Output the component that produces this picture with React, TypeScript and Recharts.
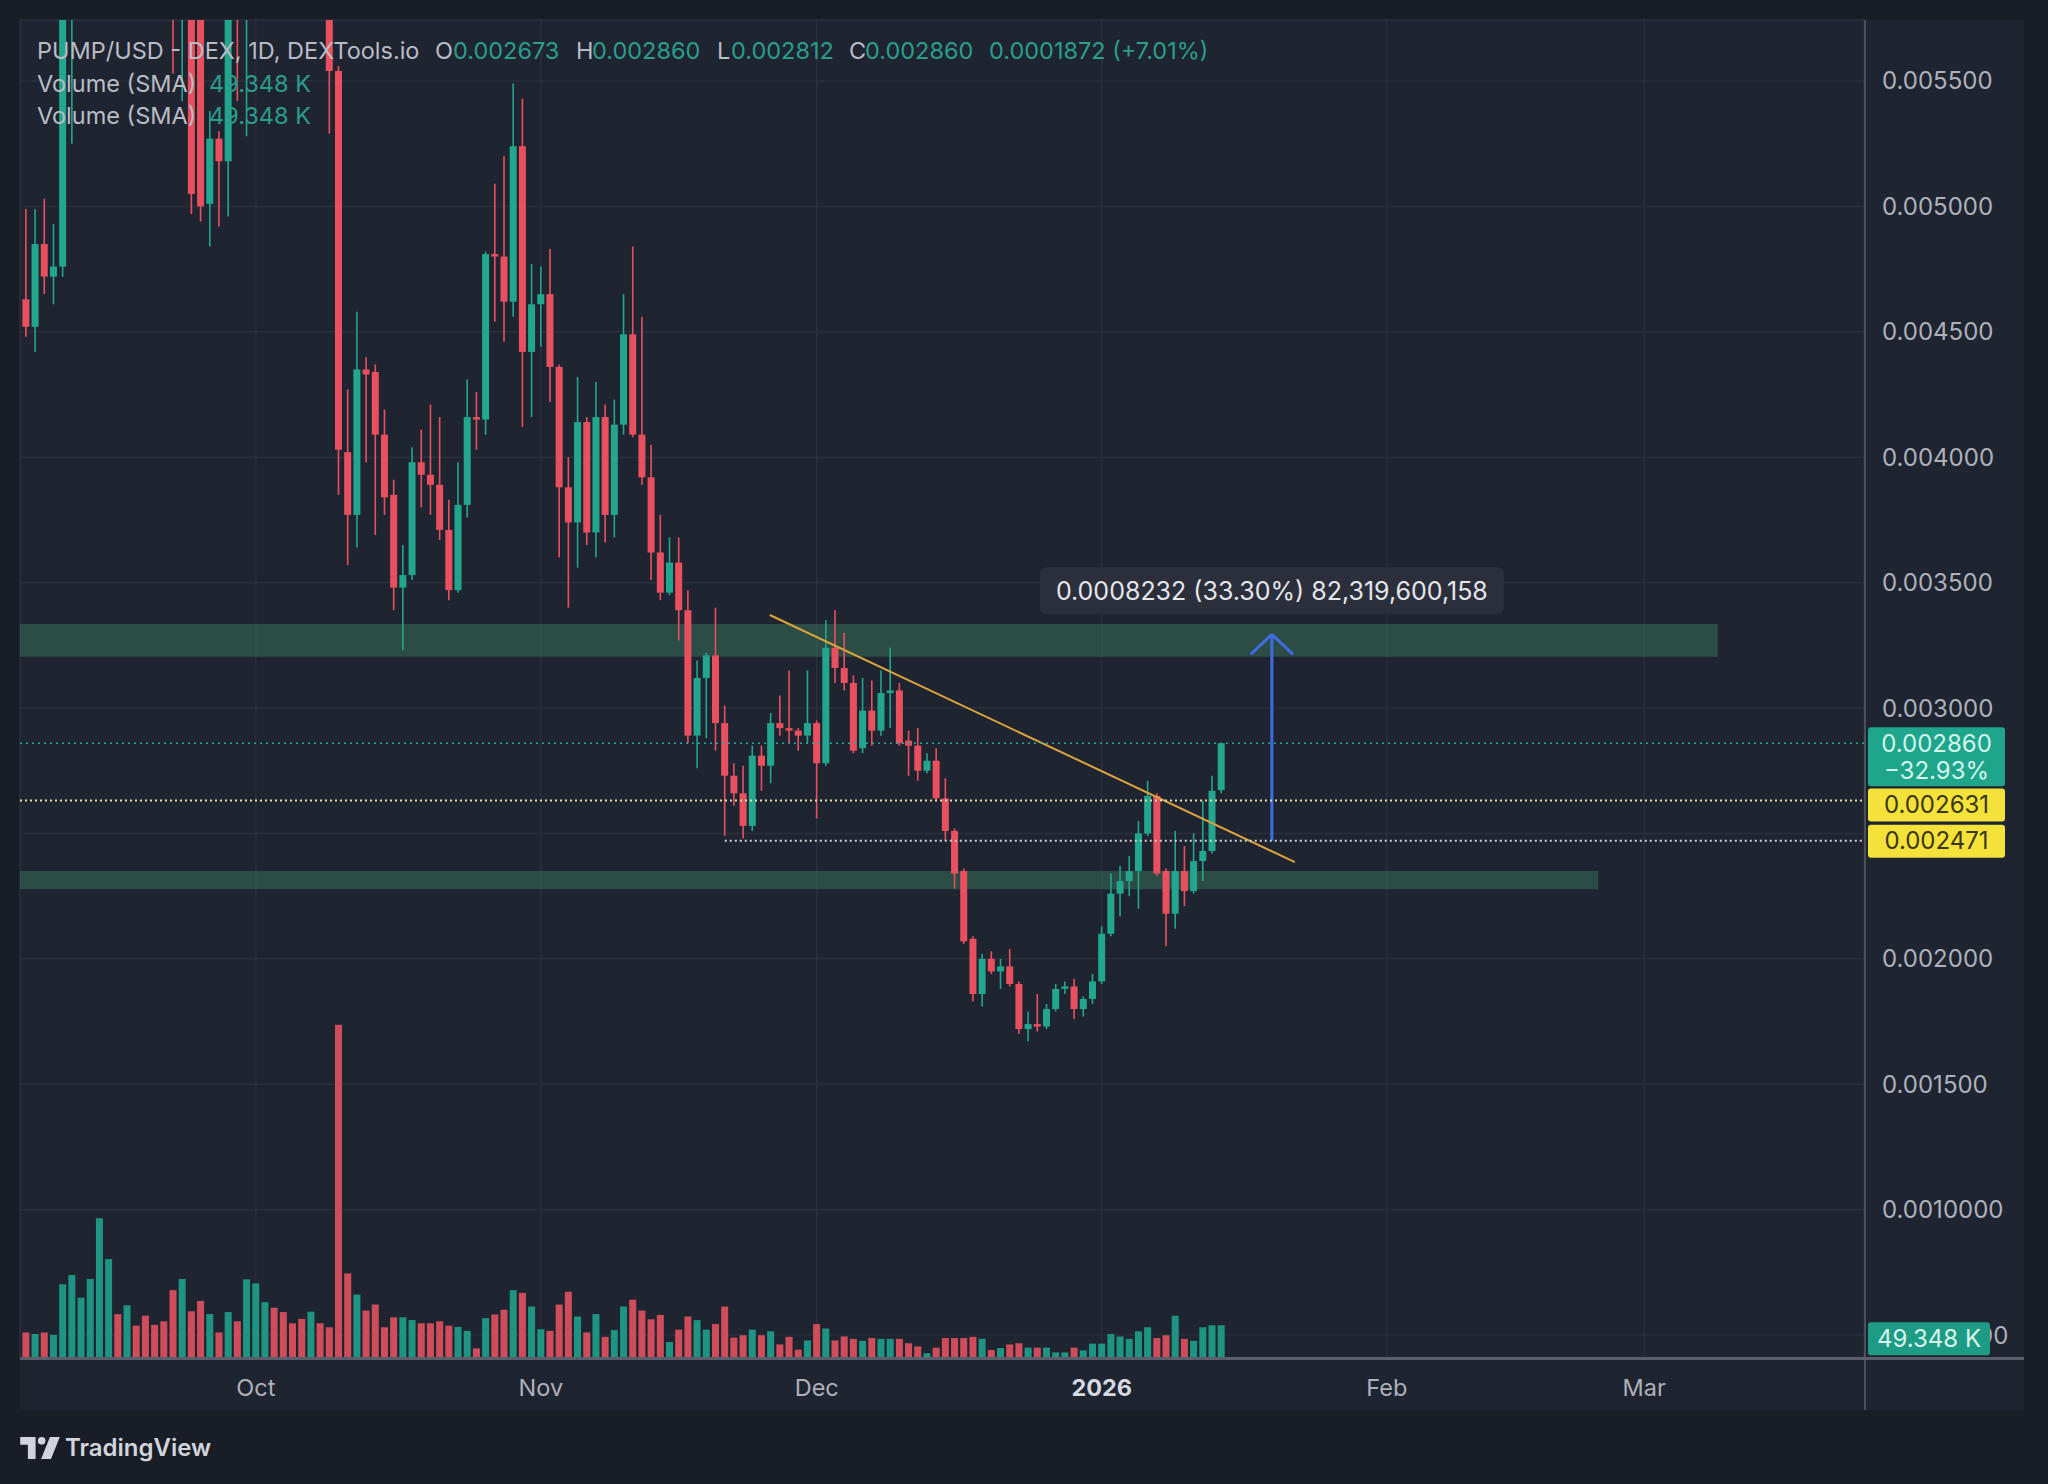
import {
  Bar,
  CartesianGrid,
  Cell,
  ComposedChart,
  ReferenceArea,
  ReferenceDot,
  ReferenceLine,
  XAxis,
  YAxis,
} from "recharts";

// day index counted from Sep 1 2025 (= 0); first candle is Sep 6
const firstDay = 5;

const opens = [
  0.00463, 0.00452, 0.00485, 0.00472, 0.00476, 0.0059, 0.0063, 0.0066, 0.007, 0.0076,
  0.0079, 0.0072, 0.0075, 0.0071, 0.0068, 0.0064, 0.0061, 0.0058, 0.0062, 0.0058,
  0.00501, 0.00527, 0.00518, 0.0061, 0.0058, 0.0063, 0.0067, 0.007, 0.0068, 0.0066,
  0.0064, 0.0063, 0.0065, 0.0061, 0.00554, 0.00402, 0.00377, 0.00435, 0.00434, 0.00409,
  0.00385, 0.00348, 0.00353, 0.00398, 0.00393, 0.00389, 0.00371, 0.00347, 0.00381, 0.00416,
  0.00415, 0.00481, 0.0048, 0.00462, 0.00524, 0.00442, 0.00461, 0.00465, 0.00436, 0.00388,
  0.00374, 0.00414, 0.0037, 0.00416, 0.00377, 0.00413, 0.00449, 0.00409, 0.00392, 0.00362,
  0.00346, 0.00358, 0.00339, 0.00289, 0.00312, 0.00321, 0.00294, 0.00273, 0.00266, 0.00253,
  0.00281, 0.00277, 0.00294, 0.00292, 0.00291, 0.00289, 0.00294, 0.00278, 0.00324, 0.00316,
  0.0031, 0.00284, 0.00299, 0.00291, 0.00306, 0.00307, 0.00287, 0.00285, 0.00275, 0.00279,
  0.00264, 0.00251, 0.00235, 0.00208, 0.00186, 0.002, 0.00195, 0.00197, 0.0019, 0.00172,
  0.00174, 0.00173, 0.0018, 0.00188, 0.00189, 0.0018, 0.00184, 0.00191, 0.0021, 0.00226,
  0.00231, 0.00235, 0.0025, 0.00265, 0.00235, 0.00218, 0.00235, 0.00227, 0.00239, 0.00243, 0.002673,
];
const highs = [
  0.00499, 0.00499, 0.00503, 0.00493, 0.0061, 0.0065, 0.0068, 0.0072, 0.0078, 0.0082,
  0.008, 0.0076, 0.0077, 0.0073, 0.007, 0.0066, 0.0063, 0.0064, 0.0063, 0.0059,
  0.00538, 0.0053, 0.0061, 0.0063, 0.0065, 0.0069, 0.0072, 0.0072, 0.007, 0.0068,
  0.0066, 0.0066, 0.0066, 0.0062, 0.00556, 0.00427, 0.00458, 0.0044, 0.00437, 0.00419,
  0.00391, 0.00365, 0.00404, 0.00411, 0.00421, 0.00416, 0.00383, 0.00398, 0.00431, 0.00426,
  0.00482, 0.00509, 0.0052, 0.00549, 0.00543, 0.00477, 0.00476, 0.00483, 0.00437, 0.004,
  0.00432, 0.00416, 0.0043, 0.00421, 0.00423, 0.00465, 0.00484, 0.00456, 0.00405, 0.00377,
  0.00368, 0.00368, 0.00347, 0.00319, 0.00322, 0.0034, 0.00301, 0.00278, 0.00277, 0.00285,
  0.00285, 0.00298, 0.00305, 0.00315, 0.00292, 0.00315, 0.00295, 0.00335, 0.00339, 0.0033,
  0.00313, 0.00312, 0.00311, 0.00315, 0.00324, 0.0031, 0.00291, 0.00292, 0.00282, 0.00284,
  0.00272, 0.00252, 0.00236, 0.00209, 0.00202, 0.00203, 0.002, 0.00204, 0.00191, 0.00179,
  0.00186, 0.00182, 0.0019, 0.00191, 0.00192, 0.00185, 0.00194, 0.00213, 0.00234, 0.00237,
  0.00241, 0.00255, 0.00271, 0.00266, 0.00236, 0.00251, 0.00245, 0.0025, 0.00263, 0.00273, 0.00286,
];
const lows = [
  0.00448, 0.00442, 0.00465, 0.00461, 0.00472, 0.00525, 0.0061, 0.0064, 0.0068, 0.0074,
  0.0071, 0.007, 0.007, 0.0067, 0.0063, 0.0059, 0.00553, 0.00542, 0.00497, 0.00494,
  0.00484, 0.00492, 0.00496, 0.00542, 0.00528, 0.0061, 0.0065, 0.0067, 0.0065, 0.0063,
  0.0062, 0.0062, 0.0059, 0.00529, 0.00385, 0.00357, 0.00364, 0.00398, 0.00369, 0.00377,
  0.00339, 0.00323, 0.00351, 0.0038, 0.00377, 0.00367, 0.00343, 0.00346, 0.00376, 0.00403,
  0.00409, 0.00454, 0.00446, 0.00456, 0.00412, 0.00416, 0.00444, 0.00422, 0.0036, 0.0034,
  0.00356, 0.00365, 0.0036, 0.00366, 0.00368, 0.00409, 0.00408, 0.00389, 0.00351, 0.00343,
  0.00345, 0.00327, 0.00286, 0.00276, 0.00288, 0.00283, 0.00249, 0.00261, 0.00248, 0.00251,
  0.00267, 0.0027, 0.00289, 0.00286, 0.00283, 0.00286, 0.00256, 0.00277, 0.0031, 0.00307,
  0.00282, 0.00282, 0.00285, 0.00289, 0.00292, 0.00285, 0.00273, 0.00271, 0.00274, 0.00263,
  0.00247, 0.00228, 0.00206, 0.00183, 0.00181, 0.00194, 0.00188, 0.00189, 0.0017, 0.00167,
  0.00171, 0.00172, 0.00179, 0.00186, 0.00176, 0.00177, 0.00182, 0.0019, 0.00209, 0.00217,
  0.00225, 0.0022, 0.00249, 0.00233, 0.00205, 0.00212, 0.00221, 0.00226, 0.00231, 0.00242, 0.00266,
];
const closes = [
  0.00452, 0.00485, 0.00472, 0.00476, 0.0059, 0.0063, 0.0066, 0.007, 0.0076, 0.0079,
  0.0072, 0.0075, 0.0071, 0.0068, 0.0064, 0.0061, 0.0058, 0.0062, 0.00505, 0.005,
  0.00527, 0.00518, 0.0059, 0.0058, 0.0063, 0.0067, 0.007, 0.0068, 0.0066, 0.0064,
  0.0063, 0.0065, 0.0061, 0.00554, 0.00403, 0.00377, 0.00435, 0.00433, 0.00409, 0.00384,
  0.00348, 0.00353, 0.00398, 0.00393, 0.00389, 0.00371, 0.00347, 0.00381, 0.00416, 0.00415,
  0.00481, 0.0048, 0.00462, 0.00524, 0.00442, 0.00461, 0.00465, 0.00436, 0.00388, 0.00374,
  0.00414, 0.0037, 0.00416, 0.00377, 0.00413, 0.00449, 0.00409, 0.00392, 0.00362, 0.00346,
  0.00358, 0.00339, 0.00289, 0.00312, 0.00321, 0.00294, 0.00273, 0.00266, 0.00253, 0.00281,
  0.00277, 0.00294, 0.00292, 0.00291, 0.00289, 0.00294, 0.00278, 0.00324, 0.00316, 0.0031,
  0.00283, 0.00299, 0.00291, 0.00306, 0.00307, 0.00286, 0.00285, 0.00275, 0.00279, 0.00264,
  0.00251, 0.00234, 0.00207, 0.00186, 0.002, 0.00195, 0.00197, 0.0019, 0.00172, 0.00174,
  0.00173, 0.0018, 0.00188, 0.00189, 0.0018, 0.00184, 0.00191, 0.0021, 0.00226, 0.00231,
  0.00235, 0.0025, 0.00265, 0.00234, 0.00218, 0.00235, 0.00227, 0.00239, 0.00243, 0.00267, 0.00286,
];
// volume in thousands
const volumes = [
  64, 60, 64, 58, 185, 208, 151, 198, 350, 248,
  110, 132, 81, 106, 83, 92, 170, 198, 117, 143,
  110, 64, 115, 92, 197, 187, 140, 126, 115, 87,
  98, 116, 87, 77, 835, 212, 159, 119, 134, 77,
  102, 102, 95, 87, 87, 92, 81, 78, 68, 24,
  100, 109, 121, 170, 163, 129, 72, 68, 134, 166,
  104, 64, 110, 53, 70, 129, 146, 119, 97, 108,
  40, 71, 104, 95, 71, 85, 129, 51, 57, 71,
  57, 67, 34, 53, 21, 44, 85, 74, 44, 54,
  48, 43, 50, 48, 48, 48, 37, 29, 12, 26,
  50, 50, 50, 53, 48, 20, 25, 34, 37, 26,
  26, 26, 14, 14, 26, 19, 36, 36, 60, 54,
  48, 67, 77, 50, 57, 106, 48, 43, 77, 82, 82,
];

const monthTicks = [30, 61, 91, 122, 153, 181];
const monthLabels = ["Oct", "Nov", "Dec", "2026", "Feb", "Mar"];
const priceTicks = [0.0005, 0.001, 0.0015, 0.002, 0.0025, 0.003, 0.0035, 0.004, 0.0045, 0.005, 0.0055];
// the 0.002500 label sits fully under the two yellow price badges
const coveredTicks = [0.0025];

const lastPrice = 0.00286;
const lastChange = "−32.93%";
const levelHigh = 0.002631;
const levelLow = 0.002471;
const levelLowFrom = 81;
const volSma = 49.348;

const upperZone = [189, 0.003204, 0.003335]; // end day, bottom, top
const lowerZone = [176, 0.002278, 0.00235];
const trendLine = [
  { x: 85.9, y: 0.003371 },
  { x: 143, y: 0.002386 },
];
const arrowDay = 140.5;
const arrowTop = 0.003294;
const arrowWing = [138.2, 142.8, 0.003214];
const measureText = "0.0008232 (33.30%) 82,319,600,158";

const X_DOMAIN = [4.35, 204.9];
const PRICE_DOMAIN = [0.0004086, 0.0057432];
const VOL_DOMAIN = [0, 3353];

const rows = opens.map((o, i) => ({
  d: firstDay + i,
  open: o,
  high: highs[i],
  low: lows[i],
  close: closes[i],
  vol: volumes[i],
}));

const FONT = "Inter, 'Noto Sans', sans-serif";
const UP = "#22a68e";
const DOWN = "#e9505f";
const UP_VOL = "#1f9483";
const DOWN_VOL = "#cf4d5a";
const AXIS_TEXT = "#aeb1ba";

const Candle = (props: any) => {
  const { x, y, width, height, payload } = props;
  if (!payload) return null;
  const { open, close, high, low } = payload;
  const top = Math.min(y, y + height);
  const h = Math.abs(height);
  const k = high === low ? 0 : h / (high - low);
  const color = close >= open ? UP : DOWN;
  const bodyTop = top + (high - Math.max(open, close)) * k;
  const bodyH = Math.max(2, Math.abs(open - close) * k);
  const cx = x + width / 2;
  return (
    <g>
      <line x1={cx} x2={cx} y1={top} y2={top + h} stroke={color} strokeWidth={1.6} />
      <rect x={x} y={bodyTop} width={width} height={bodyH} fill={color} />
    </g>
  );
};

const MonthTick = (props: any) => {
  const { x, y, payload } = props;
  const label = monthLabels[monthTicks.indexOf(payload.value)];
  const bold = label === "2026";
  return (
    <text
      x={x}
      y={y + 29}
      textAnchor="middle"
      dominantBaseline="central"
      fontFamily={FONT}
      fontSize={23.5}
      fontWeight={bold ? 700 : 400}
      fill={bold ? "#d6d9e0" : AXIS_TEXT}
    >
      {label}
    </text>
  );
};

const fmtPrice = (v: number) => (v <= 0.001 + 1e-9 ? v.toFixed(7) : v.toFixed(6));

const PriceTick = (props: any) => {
  const { x, y, payload } = props;
  if (coveredTicks.includes(payload.value)) return <g />;
  return (
    <text x={x + 18} y={y} dominantBaseline="central" fontFamily={FONT} fontSize={24} fill={AXIS_TEXT}>
      {fmtPrice(payload.value)}
    </text>
  );
};

const AxisBadge = (props: any) => {
  const { viewBox, lines, bg, color, dy = 0, w = 137 } = props;
  if (!viewBox) return null;
  const x = viewBox.x + viewBox.width + 4;
  const y = viewBox.y + dy;
  const h = lines.length > 1 ? 59 : 33;
  return (
    <g>
      <rect x={x} y={y - 16} width={w} height={h} rx={3} fill={bg} />
      {lines.map((t: string, i: number) => (
        <text
          key={i}
          x={x + w / 2}
          y={y + i * 27}
          textAnchor="middle"
          dominantBaseline="central"
          fontFamily={FONT}
          fontSize={24}
          fill={color}
        >
          {t}
        </text>
      ))}
    </g>
  );
};

const MeasureLabel = (props: any) => {
  const { viewBox } = props;
  if (!viewBox) return null;
  const cx = viewBox.x + viewBox.width / 2;
  const cy = viewBox.y + viewBox.height / 2;
  return (
    <g>
      <rect x={cx - 232} y={cy - 67} width={464} height={47} rx={7} fill="#2b2f3b" />
      <text
        x={cx}
        y={cy - 43}
        textAnchor="middle"
        dominantBaseline="central"
        fontFamily={FONT}
        fontSize={25}
        fill="#e4e6eb"
      >
        {measureText}
      </text>
    </g>
  );
};

const Txt = ({ x, y, color, size = 23.5, weight = 400, children }: any) => (
  <div
    style={{
      position: "absolute",
      left: x,
      top: y,
      transform: "translateY(-50%)",
      color,
      fontSize: size,
      fontWeight: weight,
      fontFamily: FONT,
      whiteSpace: "nowrap",
      lineHeight: 1,
    }}
  >
    {children}
  </div>
);

const GRAY = "#b9bcc5";
const TEAL = "#2a9e8c";

export default function App() {
  return (
    <div
      style={{
        position: "absolute",
        left: 0,
        top: 0,
        width: 2048,
        height: 1484,
        background: "#191d26",
        overflow: "hidden",
      }}
    >
      <div style={{ position: "absolute", left: 20, top: 20, width: 2004, height: 1390, background: "#1f2431" }} />
      <div style={{ position: "absolute", left: 0, top: 0 }}>
        <ComposedChart width={2048} height={1484} data={rows} margin={{ top: 20, right: 24, bottom: 74, left: 20 }}>
          <CartesianGrid xAxisId="x" yAxisId="price" stroke="#2a2f3d" strokeWidth={1.5} />
          <XAxis
            xAxisId="x"
            type="number"
            dataKey="d"
            domain={X_DOMAIN}
            allowDataOverflow
            ticks={monthTicks}
            interval={0}
            tick={<MonthTick />}
            tickSize={0}
            tickMargin={0}
            axisLine={false}
            tickLine={false}
            height={52}
          />
          <XAxis xAxisId="xv" type="number" dataKey="d" domain={X_DOMAIN} allowDataOverflow hide />
          <YAxis
            yAxisId="price"
            orientation="right"
            type="number"
            domain={PRICE_DOMAIN}
            allowDataOverflow
            ticks={priceTicks}
            interval={0}
            tick={<PriceTick />}
            tickSize={0}
            tickMargin={0}
            axisLine={false}
            tickLine={false}
            width={160}
          />
          <YAxis yAxisId="vol" type="number" domain={VOL_DOMAIN} allowDataOverflow hide />

          <ReferenceArea
            xAxisId="x"
            yAxisId="price"
            x1={X_DOMAIN[0]}
            x2={upperZone[0]}
            y1={upperZone[1]}
            y2={upperZone[2]}
            fill="#4a9e72"
            fillOpacity={0.33}
            stroke="none"
          />
          <ReferenceArea
            xAxisId="x"
            yAxisId="price"
            x1={X_DOMAIN[0]}
            x2={lowerZone[0]}
            y1={lowerZone[1]}
            y2={lowerZone[2]}
            fill="#4a9e72"
            fillOpacity={0.33}
            stroke="none"
          />

          <Bar xAxisId="xv" yAxisId="vol" dataKey="vol" barSize={7} isAnimationActive={false}>
            {rows.map((r, i) => (
              <Cell key={i} fill={r.close >= r.open ? UP_VOL : DOWN_VOL} />
            ))}
          </Bar>
          <Bar
            xAxisId="x"
            yAxisId="price"
            dataKey={(r: any) => [r.low, r.high]}
            barSize={7}
            shape={<Candle />}
            isAnimationActive={false}
          />

          <ReferenceLine xAxisId="x" yAxisId="price" segment={trendLine} stroke="#dca43c" strokeWidth={2} />
          <ReferenceLine
            xAxisId="x"
            yAxisId="price"
            segment={[
              { x: arrowDay, y: levelLow },
              { x: arrowDay, y: arrowTop },
            ]}
            stroke="#3f6ce3"
            strokeWidth={3}
          />
          <ReferenceLine
            xAxisId="x"
            yAxisId="price"
            segment={[
              { x: arrowWing[0], y: arrowWing[2] },
              { x: arrowDay, y: arrowTop },
            ]}
            stroke="#3f6ce3"
            strokeWidth={3}
          />
          <ReferenceLine
            xAxisId="x"
            yAxisId="price"
            segment={[
              { x: arrowWing[1], y: arrowWing[2] },
              { x: arrowDay, y: arrowTop },
            ]}
            stroke="#3f6ce3"
            strokeWidth={3}
          />
          <ReferenceDot
            xAxisId="x"
            yAxisId="price"
            x={arrowDay}
            y={arrowTop}
            r={1}
            fill="none"
            stroke="none"
            label={<MeasureLabel />}
          />
        </ComposedChart>
      </div>

      {/* price lines and axis badges, on a same-scaled overlay so they sit above the axis labels */}
      <div style={{ position: "absolute", left: 0, top: 0 }}>
        <ComposedChart width={2048} height={1484} data={rows} margin={{ top: 20, right: 184, bottom: 126, left: 20 }}>
          <XAxis xAxisId="x" type="number" dataKey="d" domain={X_DOMAIN} allowDataOverflow hide />
          <YAxis yAxisId="price" type="number" domain={PRICE_DOMAIN} allowDataOverflow hide />
          <YAxis yAxisId="vol" type="number" domain={VOL_DOMAIN} allowDataOverflow hide />
          <ReferenceLine
            xAxisId="x"
            yAxisId="price"
            y={lastPrice}
            stroke="#26a69a"
            strokeWidth={1.5}
            strokeDasharray="2 4"
            label={<AxisBadge lines={[lastPrice.toFixed(6), lastChange]} bg="#1ea58b" color="#d4f5ec" />}
          />
          <ReferenceLine
            xAxisId="x"
            yAxisId="price"
            y={levelHigh}
            stroke="#e6e0b0"
            strokeWidth={2}
            strokeDasharray="2 3"
            label={<AxisBadge lines={[levelHigh.toFixed(6)]} bg="#f4e23b" color="#3b3712" dy={4} />}
          />
          <ReferenceLine
            xAxisId="x"
            yAxisId="price"
            segment={[
              { x: levelLowFrom, y: levelLow },
              { x: X_DOMAIN[1], y: levelLow },
            ]}
            stroke="#cfd0d4"
            strokeWidth={2}
            strokeDasharray="2 3"
            label={<AxisBadge lines={[levelLow.toFixed(6)]} bg="#f4e23b" color="#3b3712" />}
          />
          <ReferenceLine
            xAxisId="x"
            yAxisId="vol"
            y={volSma}
            stroke="none"
            label={<AxisBadge lines={[`${volSma.toFixed(3)} K`]} bg="#1e9b85" color="#d7f3ec" w={122} />}
          />
        </ComposedChart>
      </div>

      {/* axis frame lines */}
      <div style={{ position: "absolute", left: 1864, top: 20, width: 2, height: 1390, background: "#4a4f5c" }} />
      <div style={{ position: "absolute", left: 20, top: 1357, width: 2004, height: 3, background: "#5a5f6b" }} />

      {/* legend */}
      <Txt x={37} y={51} color={GRAY}>PUMP/USD - DEX, 1D, DEXTools.io</Txt>
      <Txt x={435} y={51} color={GRAY}>O</Txt>
      <Txt x={453} y={51} color={TEAL}>0.002673</Txt>
      <Txt x={576} y={51} color={GRAY}>H</Txt>
      <Txt x={592} y={51} color={TEAL}>0.002860</Txt>
      <Txt x={717} y={51} color={GRAY}>L</Txt>
      <Txt x={731} y={51} color={TEAL}>0.002812</Txt>
      <Txt x={849} y={51} color={GRAY}>C</Txt>
      <Txt x={865} y={51} color={TEAL}>0.002860</Txt>
      <Txt x={989} y={51} color={TEAL}>0.0001872 (+7.01%)</Txt>
      <Txt x={37} y={84} color={GRAY}>Volume (SMA)</Txt>
      <Txt x={209} y={84} color={TEAL}>49.348 K</Txt>
      <Txt x={37} y={116} color={GRAY}>Volume (SMA)</Txt>
      <Txt x={209} y={116} color={TEAL}>49.348 K</Txt>

      {/* watermark */}
      <svg style={{ position: "absolute", left: 20, top: 1437 }} width={40} height={22} viewBox="0 0 36 20">
        <path d="M0 0 H14 V20 H7 V7 H0 Z" fill="#d1d4dc" />
        <circle cx={19.5} cy={3.5} r={3.5} fill="#d1d4dc" />
        <path d="M27 0 H36 L28 20 H19 Z" fill="#d1d4dc" />
      </svg>
      <Txt x={65} y={1448} color="#d1d4dc" size={24} weight={600}>
        TradingView
      </Txt>
    </div>
  );
}
